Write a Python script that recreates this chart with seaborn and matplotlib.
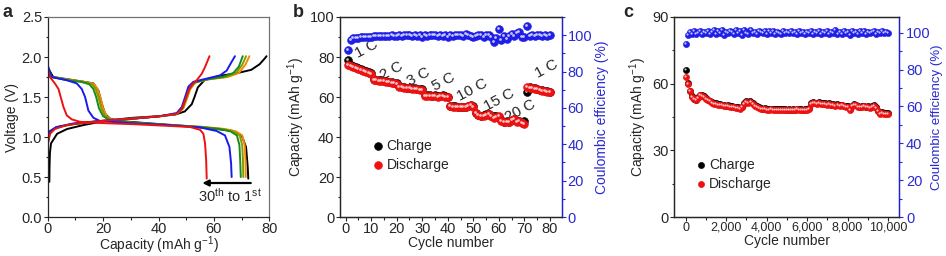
import numpy as np
import pandas as pd
import seaborn as sns
import matplotlib
matplotlib.use("Agg")
import matplotlib.pyplot as plt
from matplotlib.ticker import MultipleLocator, FuncFormatter
from matplotlib.transforms import offset_copy

# ---------------- data: panel a (charge / discharge profiles) ----------------
curve_colors = ["black", "#f28c00", "#8a9a00", "#1a8a1a", "#1a1aee", "#ee1111"]

charge_cap = [
    [0.6, 0.65, 0.8, 1.2, 3.4, 7, 13, 19, 22.5, 30.7, 40, 46, 49.5, 52, 53, 54.2, 56.6, 61.4, 68.6, 73.5, 76.5, 78.3, 79],
    [0, 0.8, 3, 9, 19, 31, 40.6, 46.8, 49, 50.3, 51.5, 53.3, 58, 65, 69, 71.3, 72.8],
    [0, 0.8, 3, 9, 19, 31, 40.6, 46.7, 48.8, 50, 51.2, 53, 57.5, 64, 68, 70.2, 71.6],
    [0, 0.8, 3, 9, 19, 31, 40.6, 46.6, 48.6, 49.8, 51, 52.8, 57, 63, 67, 69, 70.4],
    [0, 0.84, 3.2, 9.3, 18.9, 30.9, 40.6, 46.6, 48.4, 49.6, 50.8, 52.6, 57.4, 62.2, 64.6, 66.4, 67.6],
    [0, 0.1, 0.84, 2.6, 6.9, 14.1, 22.5, 30.9, 40.6, 46.6, 48.4, 49.6, 50.8, 52, 53.8, 55.6, 56.8, 58.4],
]
charge_v = [
    [0.44, 0.6, 0.8, 0.92, 1.04, 1.1, 1.15, 1.19, 1.21, 1.24, 1.26, 1.28, 1.32, 1.41, 1.5, 1.62, 1.71, 1.76, 1.8, 1.84, 1.91, 1.98, 2.01],
    [0.97, 1.07, 1.12, 1.16, 1.2, 1.23, 1.26, 1.29, 1.36, 1.48, 1.6, 1.68, 1.72, 1.75, 1.8, 1.9, 2.01],
    [0.96, 1.07, 1.12, 1.16, 1.2, 1.23, 1.26, 1.29, 1.36, 1.48, 1.6, 1.68, 1.72, 1.75, 1.8, 1.9, 2.01],
    [0.95, 1.06, 1.12, 1.16, 1.2, 1.23, 1.26, 1.29, 1.36, 1.48, 1.6, 1.68, 1.72, 1.75, 1.8, 1.88, 2.01],
    [0.9, 1.075, 1.125, 1.17, 1.2, 1.23, 1.26, 1.3, 1.375, 1.5, 1.63, 1.69, 1.73, 1.77, 1.83, 1.94, 2.01],
    [0.75, 0.92, 1.04, 1.1, 1.15, 1.18, 1.21, 1.23, 1.26, 1.29, 1.35, 1.46, 1.58, 1.65, 1.71, 1.79, 1.875, 2.01],
]
discharge_cap = [
    [0, 2, 13, 16.5, 18.3, 19.5, 20.7, 22.5, 26, 37, 49, 61, 67, 70, 71.6, 72.2, 72.4],
    [0, 1.4, 7, 13, 16.5, 18, 19, 20, 21.3, 23, 30, 43, 55, 64, 68, 70.2, 71.1, 71.4, 71.5],
    [0, 1.4, 7, 13, 16, 17.3, 18.3, 19.3, 20.7, 22.5, 30, 43, 55, 63, 67, 69.3, 70.2, 70.5, 70.6],
    [0, 1.4, 7, 12, 15, 16.5, 17.5, 18.5, 20, 22, 30, 43, 55, 62, 66, 68.3, 69.2, 69.5, 69.7],
    [0, 1.44, 6.9, 10.5, 12.3, 13.5, 14.7, 16.5, 18.9, 30.9, 43, 55, 61, 64, 65.6, 66.2, 66.4],
    [0, 0.8, 2.6, 3.9, 4.7, 5.7, 6.9, 8.7, 11.7, 19, 31, 43, 51.4, 55, 56.2, 56.8, 57.2, 57.4],
]
discharge_v = [
    [1.87, 1.75, 1.69, 1.67, 1.58, 1.42, 1.29, 1.23, 1.2, 1.17, 1.14, 1.1, 1.075, 1.02, 0.875, 0.625, 0.48],
    [1.87, 1.75, 1.72, 1.69, 1.67, 1.6, 1.5, 1.36, 1.26, 1.22, 1.18, 1.15, 1.13, 1.1, 1.07, 1.02, 0.9, 0.7, 0.5],
    [1.87, 1.75, 1.72, 1.69, 1.66, 1.6, 1.5, 1.36, 1.26, 1.22, 1.18, 1.15, 1.125, 1.1, 1.07, 1.02, 0.9, 0.7, 0.5],
    [1.87, 1.75, 1.71, 1.69, 1.66, 1.6, 1.5, 1.36, 1.26, 1.22, 1.18, 1.15, 1.125, 1.1, 1.07, 1.02, 0.9, 0.7, 0.5],
    [1.9, 1.75, 1.71, 1.67, 1.6, 1.5, 1.33, 1.24, 1.2, 1.17, 1.15, 1.12, 1.075, 1.02, 0.875, 0.67, 0.5],
    [1.85, 1.75, 1.67, 1.6, 1.5, 1.375, 1.27, 1.22, 1.19, 1.175, 1.16, 1.14, 1.125, 1.09, 1.04, 0.92, 0.71, 0.48],
]
volt_ticks = [0.0, 0.5, 1.0, 1.5, 2.0, 2.5]
volt_tick_labels = ["0.0", "0.5", "1.0", "1.5", "2.0", "2.5"]

# ---------------- data: panel b (rate capability) ----------------
cycles_b = list(range(1, 81))
discharge_b = [
    76.2, 75.6, 75.0, 74.6, 74.1, 73.6, 73.1, 72.6, 72.1, 71.5,
    68.6, 68.4, 68.2, 68.0, 67.8, 67.6, 67.4, 67.2, 66.9, 66.6,
    65.0, 64.8, 64.6, 64.4, 64.3, 64.1, 64.0, 63.9, 63.7, 63.4,
    60.7, 60.5, 60.6, 60.3, 60.7, 60.2, 60.3, 60.6, 60.2, 59.8,
    55.4, 55.0, 55.1, 54.9, 54.8, 55.0, 55.1, 55.3, 56.0, 55.2,
    51.8, 50.9, 50.4, 50.6, 51.2, 51.3, 50.4, 49.6, 49.8, 50.6,
    47.8, 47.4, 47.5, 47.4, 48.6, 49.1, 47.6, 48.0, 47.1, 46.6,
    65.0, 64.7, 64.4, 64.1, 63.8, 63.5, 63.2, 62.9, 62.6, 62.3,
]
charge_b = [
    78.5, 76.2, 75.5, 75.0, 74.5, 74.0, 73.5, 73.0, 72.5, 71.9,
    68.9, 68.7, 68.5, 68.3, 68.1, 67.9, 67.7, 67.5, 67.2, 66.9,
    65.3, 65.1, 64.9, 64.7, 64.5, 64.4, 64.3, 64.1, 64.0, 63.8,
    60.9, 60.8, 60.8, 60.6, 60.9, 60.5, 60.5, 60.8, 60.4, 60.2,
    55.6, 55.3, 55.3, 55.1, 55.0, 55.2, 55.2, 55.4, 56.2, 55.6,
    52.1, 51.1, 50.6, 50.9, 51.3, 51.5, 50.7, 50.3, 50.4, 50.0,
    48.4, 47.6, 47.8, 47.6, 48.7, 49.2, 47.9, 48.2, 47.5, 48.2,
    62.3, 64.9, 64.6, 64.3, 64.0, 63.7, 63.4, 63.1, 62.8, 62.5,
]
ce_b = [
    92.0, 97.5, 98.2, 98.5, 98.7, 98.8, 99.0, 99.0, 99.2, 99.0,
    99.5, 99.8, 99.7, 99.8, 99.6, 99.8, 99.7, 99.9, 99.8, 99.7,
    100.0, 99.8, 100.0, 99.9, 100.2, 99.8, 100.0, 99.5, 100.3, 98.8,
    100.0, 99.6, 100.2, 99.9, 100.0, 99.7, 100.1, 99.8, 100.0, 99.2,
    100.3, 99.8, 100.0, 99.9, 100.2, 99.7, 100.4, 100.0, 99.5, 98.8,
    99.8, 100.3, 99.9, 99.0, 100.3, 100.0, 99.0, 96.0, 98.5, 103.2,
    97.5, 99.5, 98.0, 99.8, 100.5, 99.6, 101.0, 102.0, 99.0, 98.8,
    104.8, 99.8, 99.9, 99.8, 99.9, 100.0, 99.8, 99.9, 99.8, 99.9,
]
rate_labels = ["1 C", "2 C", "3 C", "5 C", "10 C", "15 C", "20 C", "1 C"]
rate_x = [8.2, 18.0, 28.4, 38.5, 49.7, 60.1, 68.2, 78.7]
rate_y = [84.0, 73.0, 70.0, 67.5, 63.5, 58.8, 53.0, 74.0]

# ---------------- data: panel c (long cycling) ----------------
cycles_c = list(range(0, 10001, 100))
discharge_c = [
    63.0, 60.0, 56.5, 54.0, 53.0, 52.5, 53.5, 54.8, 54.5, 54.0,
    53.0, 52.5, 52.0, 51.3, 51.0, 50.8, 50.5, 50.3, 50.2, 50.0,
    49.8, 50.0, 49.7, 49.5, 49.3, 49.2, 49.0, 48.8, 49.3, 51.0,
    51.8, 51.5, 51.8, 50.8, 50.0, 49.5, 49.0, 48.8, 48.5, 48.5,
    48.2, 48.3, 48.5, 48.0, 48.2, 48.0, 48.3, 48.0, 48.2, 48.0,
    48.0, 48.3, 48.0, 48.2, 48.0, 48.4, 48.1, 48.3, 48.0, 48.2,
    48.3, 48.5, 50.8, 51.5, 51.2, 51.0, 51.5, 51.0, 50.8, 51.0,
    50.5, 50.8, 50.3, 50.5, 50.0, 50.3, 50.0, 50.2, 49.8, 49.5,
    49.5, 48.0, 49.8, 50.5, 50.2, 49.5, 49.3, 49.5, 49.8, 49.3,
    49.5, 49.2, 49.5, 49.8, 49.0, 47.5, 46.5, 46.8, 46.5, 46.3,
    46.5,
]
charge_c = [
    66.0, 60.4, 56.9, 54.4, 53.3, 52.8, 53.9, 55.1, 54.9, 54.3,
    53.4, 52.8, 52.4, 51.6, 51.4, 51.2, 50.8, 50.7, 50.5, 50.4,
    50.1, 50.4, 50.0, 49.9, 49.6, 49.6, 49.3, 49.2, 49.6, 51.4,
    52.1, 51.9, 52.1, 51.2, 50.3, 49.9, 49.3, 49.2, 48.8, 48.9,
    48.5, 48.7, 48.8, 48.4, 48.5, 48.4, 48.6, 48.4, 48.5, 48.4,
    48.3, 48.7, 48.3, 48.6, 48.3, 48.8, 48.4, 48.7, 48.3, 48.6,
    48.6, 48.9, 51.1, 51.9, 51.5, 51.4, 51.8, 51.4, 51.1, 51.4,
    50.8, 51.2, 50.6, 50.9, 50.3, 50.7, 50.3, 50.6, 50.1, 49.9,
    49.8, 48.4, 50.1, 50.9, 50.5, 49.9, 49.6, 49.9, 50.1, 49.7,
    49.8, 49.6, 49.8, 50.2, 49.3, 47.9, 46.8, 47.2, 46.8, 46.7,
    46.8,
]
ce_c = [
    94.0, 98.6, 100.4, 99.2, 100.9, 99.5, 100.1, 101.0, 99.3, 100.6,
    99.8, 100.9, 99.1, 100.4, 101.2, 99.5, 100.7, 99.9, 101.3, 99.0,
    100.5, 99.7, 101.0, 100.2, 99.3, 101.4, 99.6, 100.8, 99.0, 101.5,
    100.1, 99.4, 101.6, 99.8, 100.6, 99.2, 100.9, 100.3, 99.6, 101.0,
    99.4, 100.7, 99.9, 101.1, 99.3, 100.5, 100.0, 99.5, 100.8, 99.7,
    100.4, 99.6, 101.0, 99.8, 100.3, 99.4, 100.7, 99.9, 100.2, 99.3,
    100.6, 99.8, 101.1, 99.5, 100.2, 99.9, 100.8, 99.4, 100.5, 99.7,
    100.9, 99.2, 100.4, 99.8, 101.2, 99.5, 100.6, 99.1, 100.9, 99.7,
    100.3, 98.9, 101.0, 99.6, 100.5, 99.2, 100.8, 99.9, 101.1, 99.4,
    100.6, 99.8, 100.2, 101.0, 99.5, 100.4, 99.7, 100.9, 99.6, 100.3,
    100.0,
]

RED = "#ee1111"
BLUE = "#1e1ee8"
BLUE_TXT = "#2a2ad0"
TICK_FS = 10.5
LABEL_FS = 10

sns.set_theme(style="ticks")
plt.rcParams["font.family"] = ["Liberation Sans", "DejaVu Sans"]
plt.rcParams["font.size"] = 10
plt.rcParams["mathtext.default"] = "regular"

fig = plt.figure(figsize=(9.46, 2.56), dpi=100)
ax_a = fig.add_axes([0.0504, 0.1523, 0.2343, 0.7813])
ax_b = fig.add_axes([0.3594, 0.1523, 0.2347, 0.7813])
ax_c = fig.add_axes([0.7125, 0.1523, 0.2378, 0.7813])


def style_ticks(ax):
    ax.tick_params(which="major", direction="out", length=3, width=0.8, labelsize=TICK_FS, pad=1)
    ax.tick_params(which="minor", direction="out", length=1.8, width=0.8)
    ax.tick_params(axis="x", which="major", pad=0.5)
    for s in ax.spines.values():
        s.set_linewidth(0.9)


def sphere_scatter(ax, x, y, color, size, label=None, zorder=3):
    sns.scatterplot(x=x, y=y, color=color, s=size, edgecolor=color, linewidth=0.4,
                    ax=ax, label=label, zorder=zorder, legend=bool(label))
    trans = offset_copy(ax.transData, fig=fig, x=-0.7, y=0.7, units="points")
    ax.scatter(x, y, s=size * 0.12, c="white", alpha=0.75, linewidths=0,
               transform=trans, zorder=zorder + 0.1)


# ---------------- panel a ----------------
for i in range(len(curve_colors)):
    sns.lineplot(x=charge_cap[i], y=charge_v[i], sort=False, estimator=None,
                 color=curve_colors[i], lw=1.4, ax=ax_a)
    sns.lineplot(x=discharge_cap[i], y=discharge_v[i], sort=False, estimator=None,
                 color=curve_colors[i], lw=1.4, ax=ax_a)
ax_a.set_xlim(0, 80)
ax_a.set_ylim(0, 2.5)
ax_a.xaxis.set_major_locator(MultipleLocator(20))
ax_a.xaxis.set_minor_locator(MultipleLocator(10))
ax_a.set_yticks(volt_ticks)
ax_a.set_yticklabels(volt_tick_labels)
ax_a.yaxis.set_minor_locator(MultipleLocator(0.25))
ax_a.set_xlabel("Capacity (mAh g$^{-1}$)", fontsize=LABEL_FS, labelpad=-1)
ax_a.set_ylabel("Voltage (V)", fontsize=LABEL_FS, labelpad=2)
style_ticks(ax_a)
ax_a.spines["top"].set_color("0.45")
ax_a.spines["right"].set_color("0.45")
ax_a.annotate("", xy=(54.8, 0.425), xytext=(74.3, 0.425),
              arrowprops=dict(arrowstyle="-|>", color="black", lw=1.6, mutation_scale=9))
ax_a.text(65.9, 0.27, "30$^{th}$ to 1$^{st}$", ha="center", va="center", fontsize=10.5)

# ---------------- panel b ----------------
ax_b2 = ax_b.twinx()
sphere_scatter(ax_b, cycles_b, charge_b, "black", 32, label="Charge", zorder=3)
sphere_scatter(ax_b, cycles_b, discharge_b, RED, 32, label="Discharge", zorder=4)
sphere_scatter(ax_b2, cycles_b, ce_b, BLUE, 32, zorder=3)
ax_b.set_xlim(-2.2, 84.7)
ax_b.set_ylim(0, 100)
ax_b2.set_ylim(0, 110)
ax_b.xaxis.set_major_locator(MultipleLocator(10))
ax_b.xaxis.set_minor_locator(MultipleLocator(5))
ax_b.yaxis.set_major_locator(MultipleLocator(20))
ax_b.yaxis.set_minor_locator(MultipleLocator(10))
ax_b2.set_yticks([0, 20, 40, 60, 80, 100])
ax_b2.yaxis.set_minor_locator(MultipleLocator(10))
ax_b.set_xlabel("Cycle number", fontsize=LABEL_FS, labelpad=0)
ax_b.set_ylabel("Capacity (mAh g$^{-1}$)", fontsize=LABEL_FS, labelpad=2)
ax_b2.set_ylabel("Coulombic efficiency (%)", fontsize=LABEL_FS, color=BLUE_TXT, labelpad=2)
style_ticks(ax_b)
style_ticks(ax_b2)
ax_b2.tick_params(axis="y", which="both", colors=BLUE_TXT)
ax_b2.spines["right"].set_color(BLUE)
for lab, xx, yy in zip(rate_labels, rate_x, rate_y):
    ax_b.text(xx, yy, lab, rotation=28, ha="center", va="center", fontsize=11)
ax_b.legend(loc="upper left", bbox_to_anchor=(0.147, 0.39), frameon=False,
            handlelength=0.8, handletextpad=0.2, labelspacing=0.35, borderpad=0,
            borderaxespad=0, fontsize=LABEL_FS)

# ---------------- panel c ----------------
ax_c2 = ax_c.twinx()
sphere_scatter(ax_c, cycles_c, charge_c, "black", 20, label="Charge", zorder=3)
sphere_scatter(ax_c, cycles_c, discharge_c, RED, 20, label="Discharge", zorder=4)
sphere_scatter(ax_c2, cycles_c, ce_c, BLUE, 20, zorder=3)
ax_c.set_xlim(-580, 10540)
ax_c.set_ylim(0, 90)
ax_c2.set_ylim(0, 108.5)
ax_c.xaxis.set_major_locator(MultipleLocator(2000))
ax_c.xaxis.set_minor_locator(MultipleLocator(1000))
ax_c.xaxis.set_major_formatter(FuncFormatter(lambda v, p: f"{v:,.0f}"))
ax_c.yaxis.set_major_locator(MultipleLocator(30))
ax_c.yaxis.set_minor_locator(MultipleLocator(15))
ax_c2.set_yticks([0, 20, 40, 60, 80, 100])
ax_c2.yaxis.set_minor_locator(MultipleLocator(10))
ax_c.set_xlabel("Cycle number", fontsize=LABEL_FS, labelpad=0)
ax_c.set_ylabel("Capacity (mAh g$^{-1}$)", fontsize=LABEL_FS, labelpad=2)
ax_c2.set_ylabel("Coulombic efficiency (%)", fontsize=9.5, color=BLUE_TXT, labelpad=0.5)
style_ticks(ax_c)
style_ticks(ax_c2)
ax_c.tick_params(axis="x", labelsize=9)
ax_c2.tick_params(axis="y", which="both", colors=BLUE_TXT, pad=2)
ax_c2.spines["right"].set_color(BLUE)
ax_c.legend(loc="upper left", bbox_to_anchor=(0.093, 0.295), frameon=False,
            handlelength=0.8, handletextpad=0.2, labelspacing=0.35, borderpad=0,
            borderaxespad=0, fontsize=LABEL_FS)

# panel letters
for letter, xf in zip(["a", "b", "c"], [0.003, 0.309, 0.659]):
    fig.text(xf, 0.985, letter, fontsize=13, fontweight="bold", va="top", ha="left")

fig.savefig("out.png", dpi=100)
